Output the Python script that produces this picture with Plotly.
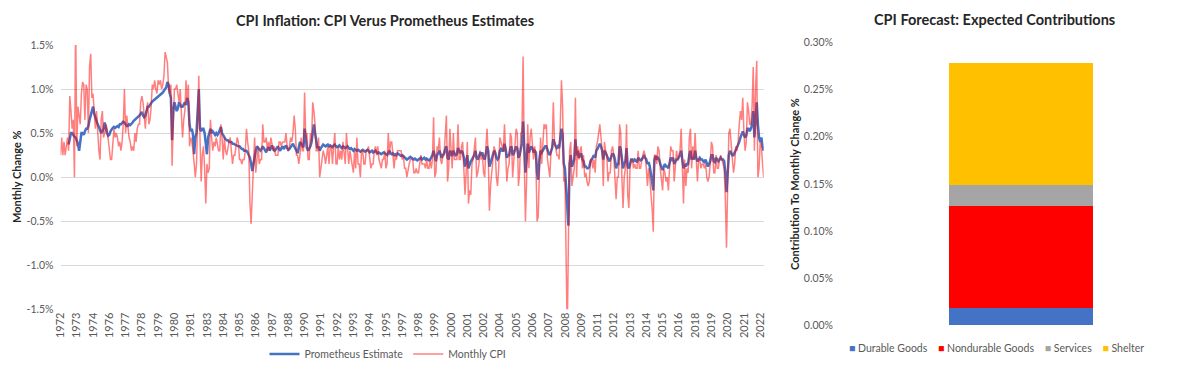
import pandas as pd
import plotly.graph_objects as go

# ---------------- data ----------------
months = pd.date_range("1972-07-01", "2022-12-01", freq="MS")
month_labels = [d.strftime("%Y-%m") for d in months]

# Monthly CPI change (%), Jul 1972 .. Dec 2022
cpi_monthly = [
    0.25, 0.45, 0.25, 0.4, 0.25, 0.35,                                    # 1972 H2
    0.45, 0.3, 0.92, 0.75, 0.55, 0.65, 0.0, 1.8, 0.35, 0.8, 0.7, 0.6,      # 1973
    0.95, 1.08, 1.05, 0.65, 1.05, 1.0, 0.5, 1.25, 1.4, 0.9, 0.95, 0.7,     # 1974
    0.55, 0.75, 0.45, 0.3, 0.2, 0.65, 0.75, 0.45, 0.5, 0.6, 0.55, 0.45,    # 1975
    0.35, 0.2, 0.2, 0.45, 0.55, 0.45, 0.5, 0.45, 0.35, 0.4, 0.3, 0.4,      # 1976
    0.6, 1.0, 0.5, 0.7, 0.55, 0.45, 0.4, 0.3, 0.35, 0.3, 0.5, 0.4,         # 1977
    0.55, 0.6, 0.6, 0.85, 0.92, 0.85, 0.7, 0.55, 0.75, 0.85, 0.6, 0.65,    # 1978
    0.8, 1.05, 1.0, 1.1, 1.0, 0.95, 1.1, 1.05, 1.1, 1.0, 1.05, 1.15,       # 1979
    1.42, 1.35, 1.3, 1.0, 0.95, 1.05, 0.13, 0.6, 1.0, 1.0, 1.05, 0.95,     # 1980
    0.85, 1.0, 0.6, 0.45, 0.65, 0.75, 1.1, 0.85, 1.05, 0.35, 0.45, 0.4,    # 1981
    0.3, 0.15, 0.0, 0.15, 0.85, 1.15, 0.45, -0.05, 0.25, 0.35, 0.1, -0.3,  # 1982
    0.15, 0.05, 0.1, 0.65, 0.45, 0.3, 0.4, 0.35, 0.45, 0.35, 0.3, 0.3,     # 1983
    0.6, 0.45, 0.2, 0.45, 0.3, 0.25, 0.35, 0.4, 0.45, 0.3, 0.15, 0.25,     # 1984
    0.25, 0.35, 0.45, 0.4, 0.2, 0.2, 0.15, 0.2, 0.2, 0.3, 0.55, 0.4,       # 1985
    0.3, -0.3, -0.53, -0.2, 0.2, 0.45, 0.05, 0.2, 0.35, 0.15, 0.2, 0.2,    # 1986
    0.6, 0.4, 0.4, 0.45, 0.3, 0.4, 0.3, 0.45, 0.35, 0.3, 0.35, 0.25,       # 1987
    0.25, 0.25, 0.4, 0.4, 0.35, 0.4, 0.4, 0.4, 0.5, 0.35, 0.3, 0.35,       # 1988
    0.45, 0.4, 0.5, 0.7, 0.55, 0.25, 0.25, 0.15, 0.25, 0.45, 0.3, 0.3,     # 1989
    0.96, 0.45, 0.5, 0.2, 0.2, 0.5, 0.4, 0.85, 0.75, 0.6, 0.3, 0.3,        # 1990
    0.45, 0.0, 0.1, 0.2, 0.3, 0.25, 0.15, 0.25, 0.35, 0.15, 0.35, 0.35,    # 1991
    0.15, 0.35, 0.5, 0.15, 0.15, 0.35, 0.2, 0.3, 0.2, 0.4, 0.25, 0.15,     # 1992
    0.5, 0.35, 0.15, 0.3, 0.2, 0.1, 0.05, 0.3, 0.1, 0.45, 0.15, 0.15,      # 1993
    0.0, 0.3, 0.3, 0.15, 0.15, 0.3, 0.3, 0.35, 0.2, 0.1, 0.15, 0.15,       # 1994
    0.3, 0.35, 0.25, 0.35, 0.2, 0.15, 0.1, 0.2, 0.2, 0.3, 0.1, 0.15,       # 1995
    0.5, 0.25, 0.4, 0.4, 0.25, 0.1, 0.25, 0.2, 0.3, 0.3, 0.3, 0.3,         # 1996
    0.2, 0.25, 0.1, 0.1, 0.0, 0.1, 0.15, 0.2, 0.2, 0.2, 0.05, 0.05,        # 1997
    0.1, 0.05, 0.05, 0.15, 0.25, 0.15, 0.15, 0.15, 0.1, 0.2, 0.1, 0.1,     # 1998
    0.2, 0.1, 0.2, 0.68, 0.0, 0.05, 0.35, 0.3, 0.45, 0.2, 0.15, 0.25,      # 1999
    0.25, 0.55, 0.7, -0.05, 0.1, 0.55, 0.25, 0.1, 0.5, 0.2, 0.2, 0.2,      # 2000
    0.6, 0.2, 0.2, 0.35, 0.4, 0.15, -0.2, 0.05, 0.4, -0.3, -0.15, -0.2,    # 2001
    0.15, 0.2, 0.3, 0.45, 0.0, 0.05, 0.15, 0.3, 0.2, 0.25, 0.05, 0.0,      # 2002
    0.35, 0.55, 0.25, -0.38, -0.1, 0.1, 0.2, 0.35, 0.3, 0.0, -0.1, 0.1,    # 2003
    0.45, 0.4, 0.35, 0.3, 0.6, 0.3, -0.05, 0.1, 0.15, 0.5, 0.45, 0.0,      # 2004
    0.2, 0.45, 0.55, 0.5, -0.1, 0.05, 0.5, 0.5, 1.37, 0.2, -0.5, -0.05,    # 2005
    0.6, 0.1, 0.45, 0.55, 0.4, 0.2, 0.35, 0.2, -0.5, -0.45, 0.05, 0.45,    # 2006
    0.15, 0.4, 0.6, 0.55, 0.6, 0.2, 0.1, 0.0, 0.3, 0.35, 0.85, 0.4,        # 2007
    0.35, 0.25, 0.25, 0.2, 0.6, 1.1, 0.8, -0.05, 0.0, -0.9, -1.8, -0.7,    # 2008
    0.3, 0.4, -0.1, 0.0, 0.1, 0.9, 0.0, 0.35, 0.2, 0.3, 0.35, 0.1,         # 2009
    0.25, 0.0, 0.05, -0.05, -0.1, -0.05, 0.2, 0.2, 0.1, 0.2, 0.05, 0.35,   # 2010
    0.4, 0.5, 0.6, 0.45, 0.3, -0.1, 0.4, 0.3, 0.25, -0.05, 0.05, 0.05,     # 2011
    0.3, 0.35, 0.25, 0.0, -0.25, 0.0, 0.0, 0.6, 0.5, 0.0, -0.35, 0.0,      # 2012
    0.1, 0.6, -0.2, -0.35, 0.1, 0.2, 0.2, 0.1, 0.15, 0.1, 0.1, 0.3,        # 2013
    0.1, 0.1, 0.2, 0.25, 0.3, 0.25, 0.1, -0.1, 0.1, 0.0, -0.2, -0.35,      # 2014
    -0.62, 0.25, 0.25, 0.15, 0.35, 0.3, 0.1, 0.0, -0.15, 0.1, 0.05, -0.05, # 2015
    0.0, -0.15, 0.15, 0.35, 0.3, 0.3, -0.05, 0.2, 0.3, 0.2, 0.25, 0.3,     # 2016
    0.55, 0.1, -0.3, 0.2, -0.1, 0.1, 0.05, 0.45, 0.55, 0.1, 0.35, 0.2,     # 2017
    0.5, 0.2, -0.05, 0.2, 0.2, 0.1, 0.15, 0.15, 0.1, 0.15, 0.0, -0.05,     # 2018
    0.0, 0.15, 0.4, 0.35, 0.05, 0.05, 0.25, 0.1, 0.1, 0.2, 0.25, 0.2,      # 2019
    0.15, 0.1, -0.25, -0.8, -0.1, 0.5, 0.55, 0.35, 0.15, 0.05, 0.15, 0.35, # 2020
    0.3, 0.4, 0.6, 0.75, 0.65, 0.9, 0.5, 0.3, 0.4, 0.85, 0.75, 0.6,        # 2021
    0.6, 0.8, 1.25, 0.3, 1.0, 1.32, 0.0, 0.1, 0.4, 0.35, 0.15, 0.0,        # 2022
]

# Prometheus estimate (%), Jul 1972 .. Dec 2022 (None = not available)
prometheus_estimate = [
    None, None, None, None, None, None,                                     # 1972 H2
    None, 0.37, 0.42, 0.5, 0.5, 0.47, 0.46, 0.45, 0.42, 0.38, 0.3, 0.4,     # 1973
    0.5, 0.5, 0.48, 0.52, 0.55, 0.55, 0.58, 0.65, 0.7, 0.78, 0.8, 0.72,     # 1974
    0.67, 0.62, 0.6, 0.57, 0.52, 0.5, 0.52, 0.55, 0.62, 0.55, 0.5, 0.47,    # 1975
    0.48, 0.52, 0.55, 0.56, 0.57, 0.56, 0.57, 0.58, 0.57, 0.6, 0.6, 0.62,   # 1976
    0.63, 0.62, 0.6, 0.58, 0.58, 0.6, 0.59, 0.6, 0.62, 0.64, 0.65, 0.66,    # 1977
    0.67, 0.68, 0.7, 0.72, 0.74, 0.7, 0.68, 0.7, 0.75, 0.8, 0.8, 0.82,      # 1978
    0.85, 0.86, 0.87, 0.88, 0.9, 0.9, 0.92, 0.92, 0.93, 0.95, 0.96, 0.98,   # 1979
    1.0, 1.02, 1.08, 1.05, 0.95, 0.9, 0.42, 0.75, 0.85, 0.8, 0.75, 0.78,    # 1980
    0.85, 0.82, 0.8, 0.8, 0.82, 0.85, 0.82, 0.9, 0.85, 0.6, 0.52, 0.55,     # 1981
    0.48, 0.26, 0.45, 0.5, 0.75, 1.0, 0.55, 0.52, 0.55, 0.55, 0.5, 0.4,     # 1982
    0.26, 0.45, 0.52, 0.55, 0.5, 0.52, 0.5, 0.48, 0.5, 0.48, 0.5, 0.55,     # 1983
    0.57, 0.5, 0.47, 0.45, 0.43, 0.42, 0.42, 0.4, 0.4, 0.4, 0.38, 0.38,     # 1984
    0.37, 0.36, 0.36, 0.35, 0.35, 0.33, 0.32, 0.32, 0.3, 0.3, 0.3, 0.28,    # 1985
    0.25, 0.22, 0.15, 0.07, 0.15, 0.25, 0.3, 0.35, 0.33, 0.32, 0.3, 0.32,   # 1986
    0.35, 0.33, 0.3, 0.28, 0.32, 0.34, 0.3, 0.33, 0.36, 0.32, 0.3, 0.31,    # 1987
    0.33, 0.35, 0.32, 0.3, 0.33, 0.35, 0.32, 0.34, 0.36, 0.33, 0.31, 0.32,  # 1988
    0.34, 0.36, 0.38, 0.35, 0.33, 0.3, 0.27, 0.32, 0.4, 0.38, 0.35, 0.34,   # 1989
    0.55, 0.4, 0.33, 0.3, 0.32, 0.35, 0.4, 0.5, 0.6, 0.5, 0.38, 0.33,       # 1990
    0.35, 0.3, 0.33, 0.36, 0.37, 0.36, 0.35, 0.36, 0.37, 0.35, 0.36, 0.35,  # 1991
    0.34, 0.36, 0.37, 0.35, 0.34, 0.35, 0.36, 0.34, 0.33, 0.35, 0.34, 0.33, # 1992
    0.34, 0.35, 0.33, 0.32, 0.33, 0.31, 0.3, 0.32, 0.31, 0.3, 0.31, 0.3,    # 1993
    0.29, 0.3, 0.31, 0.3, 0.29, 0.3, 0.31, 0.3, 0.28, 0.29, 0.3, 0.28,      # 1994
    0.29, 0.3, 0.28, 0.27, 0.28, 0.27, 0.26, 0.27, 0.28, 0.27, 0.26, 0.25,  # 1995
    0.28, 0.3, 0.27, 0.26, 0.27, 0.25, 0.26, 0.25, 0.27, 0.26, 0.25, 0.24,  # 1996
    0.25, 0.24, 0.23, 0.22, 0.2, 0.21, 0.22, 0.23, 0.22, 0.21, 0.2, 0.21,   # 1997
    0.2, 0.19, 0.2, 0.21, 0.22, 0.2, 0.21, 0.22, 0.2, 0.21, 0.2, 0.19,      # 1998
    0.2, 0.22, 0.25, 0.3, 0.22, 0.18, 0.25, 0.27, 0.3, 0.26, 0.22, 0.25,    # 1999
    0.27, 0.32, 0.35, 0.22, 0.2, 0.3, 0.28, 0.24, 0.3, 0.27, 0.25, 0.26,    # 2000
    0.33, 0.3, 0.27, 0.3, 0.28, 0.22, 0.12, 0.18, 0.25, 0.1, 0.15, 0.18,    # 2001
    0.2, 0.22, 0.25, 0.3, 0.22, 0.2, 0.23, 0.27, 0.26, 0.28, 0.22, 0.2,     # 2002
    0.27, 0.35, 0.3, 0.12, 0.16, 0.2, 0.24, 0.3, 0.28, 0.22, 0.2, 0.22,     # 2003
    0.3, 0.32, 0.3, 0.3, 0.38, 0.32, 0.22, 0.25, 0.25, 0.33, 0.35, 0.25,    # 2004
    0.27, 0.32, 0.35, 0.33, 0.22, 0.25, 0.33, 0.38, 0.63, 0.35, 0.05, 0.2,  # 2005
    0.38, 0.28, 0.32, 0.35, 0.33, 0.28, 0.3, 0.28, 0.05, -0.03, 0.2, 0.3,   # 2006
    0.28, 0.3, 0.33, 0.35, 0.35, 0.3, 0.27, 0.25, 0.3, 0.33, 0.43, 0.38,    # 2007
    0.35, 0.33, 0.35, 0.33, 0.42, 0.55, 0.48, 0.15, 0.1, -0.15, -0.4, -0.55,# 2008
    0.15, 0.25, 0.12, 0.15, 0.2, 0.43, 0.25, 0.3, 0.22, 0.25, 0.27, 0.2,    # 2009
    0.18, 0.12, 0.12, 0.1, 0.1, 0.12, 0.18, 0.2, 0.22, 0.25, 0.22, 0.3,     # 2010
    0.32, 0.35, 0.38, 0.35, 0.3, 0.2, 0.3, 0.28, 0.25, 0.2, 0.18, 0.2,      # 2011
    0.25, 0.27, 0.25, 0.2, 0.1, 0.15, 0.15, 0.35, 0.32, 0.18, 0.1, 0.15,    # 2012
    0.18, 0.33, 0.12, 0.1, 0.15, 0.2, 0.2, 0.18, 0.2, 0.18, 0.17, 0.22,     # 2013
    0.2, 0.19, 0.2, 0.22, 0.24, 0.22, 0.2, 0.15, 0.17, 0.12, 0.05, -0.05,   # 2014
    -0.15, 0.2, 0.24, 0.2, 0.22, 0.2, 0.15, 0.12, 0.08, 0.12, 0.15, 0.12,   # 2015
    0.12, 0.1, 0.15, 0.22, 0.2, 0.22, 0.15, 0.18, 0.2, 0.2, 0.22, 0.25,     # 2016
    0.3, 0.18, 0.1, 0.15, 0.12, 0.15, 0.15, 0.25, 0.3, 0.2, 0.23, 0.2,      # 2017
    0.3, 0.22, 0.18, 0.2, 0.22, 0.2, 0.2, 0.18, 0.17, 0.2, 0.15, 0.12,      # 2018
    0.15, 0.18, 0.25, 0.25, 0.18, 0.17, 0.22, 0.2, 0.18, 0.2, 0.22, 0.2,    # 2019
    0.2, 0.18, 0.05, -0.17, 0.1, 0.25, 0.3, 0.28, 0.25, 0.25, 0.28, 0.3,    # 2020
    0.32, 0.35, 0.4, 0.45, 0.5, 0.52, 0.48, 0.45, 0.47, 0.55, 0.55, 0.52,   # 2021
    0.55, 0.6, 0.75, 0.45, 0.65, 0.85, 0.6, 0.45, 0.4, 0.45, 0.35, 0.3,     # 2022
]

# Tick labels: every 14th month, shown as the year
tick_step = 14
tick_months = month_labels[::tick_step]
tick_years = [m[:4] for m in tick_months]

# Forecast contributions (%)
components = ["Durable Goods", "Nondurable Goods", "Services", "Shelter"]
contributions = [0.018, 0.108, 0.023, 0.129]
component_colors = ["#4472C4", "#FF0000", "#A5A5A5", "#FFC000"]
forecast_category = ["Forecast"]

assert len(cpi_monthly) == len(month_labels) == len(prometheus_estimate)

# ---------------- figure ----------------
FONT = "Lato, 'Open Sans', sans-serif"
TICK = "#595959"
W, H = 1200, 370
OFF = 8  # page body margin offset of the plot div


def px_x(p):
    return (p - OFF) / W


def px_y(p):
    return 1 - (p - OFF) / H


fig = go.Figure()

fig.add_trace(go.Scatter(
    x=month_labels, y=prometheus_estimate, mode="lines",
    name="Prometheus Estimate", line=dict(color="#4472C4", width=2.5),
    xaxis="x", yaxis="y", connectgaps=False,
))
fig.add_trace(go.Scatter(
    x=month_labels, y=cpi_monthly, mode="lines",
    name="Monthly CPI", line=dict(color="rgba(255,0,0,0.5)", width=1.5),
    xaxis="x", yaxis="y",
))

for name, val, col in zip(components, contributions, component_colors):
    fig.add_trace(go.Bar(
        x=forecast_category, y=[val], name=name,
        marker=dict(color=col, line=dict(width=0)),
        width=0.40, xaxis="x2", yaxis="y2", showlegend=False,
    ))

# compact legend for the bar chart (Excel style small squares)
bar_legend_text = "    ".join(
    f'<span style="color:{c}">■</span> {n}' for n, c in zip(components, component_colors)
)

left_dom_y = [px_y(309.3), px_y(45)]
zero_pos = left_dom_y[0] + (0 - (-1.5)) / 3.0 * (left_dom_y[1] - left_dom_y[0])

fig.update_layout(
    width=W, height=H,
    margin=dict(l=0, r=0, t=0, b=0, autoexpand=False),
    paper_bgcolor="white", plot_bgcolor="white",
    font=dict(family=FONT, color=TICK, size=10.5),
    barmode="stack",
    showlegend=True,
    xaxis=dict(
        domain=[px_x(60.5), px_x(763.7)], anchor="y", type="category",
        categoryorder="array", categoryarray=month_labels,
        range=[0, len(month_labels) - 1], automargin=False,
        tickmode="array", tickvals=tick_months, ticktext=tick_years,
        tickangle=-90, showgrid=False, zeroline=False, showline=False,
        ticks="", tickfont=dict(size=11, color=TICK),
    ),
    xaxis3=dict(
        overlaying="x", anchor="free", position=zero_pos, type="category",
        categoryorder="array", categoryarray=month_labels,
        range=[0, len(month_labels) - 1], automargin=False,
        tickmode="array", tickvals=tick_months, showticklabels=False,
        ticks="outside", ticklen=4, tickcolor="#BFBFBF",
        showline=True, linecolor="#BFBFBF", linewidth=1,
        showgrid=False, zeroline=False,
    ),
    yaxis=dict(
        domain=left_dom_y, anchor="x", range=[-1.5, 1.5], automargin=False,
        tickmode="array", tickvals=[-1.5, -1.0, -0.5, 0.0, 0.5, 1.0, 1.5],
        ticktext=["-1.5%", "-1.0%", "-0.5%", "0.0%", "0.5%", "1.0%", "1.5%"],
        showgrid=True, gridcolor="#D9D9D9", gridwidth=1,
        zeroline=False, showline=False, ticks="",
        ticklabelstandoff=6, tickfont=dict(size=10.5, color=TICK),
    ),
    xaxis2=dict(
        domain=[px_x(842), px_x(1200)], anchor="y2", type="category",
        range=[-0.5, 0.5], showticklabels=False, showgrid=False, automargin=False,
        zeroline=False, showline=False, ticks="",
    ),
    yaxis2=dict(
        domain=[px_y(325), px_y(42.7)], anchor="x2", range=[0, 0.30], automargin=False,
        tickmode="array", tickvals=[0, 0.05, 0.10, 0.15, 0.20, 0.25, 0.30],
        ticktext=["0.00%", "0.05%", "0.10%", "0.15%", "0.20%", "0.25%", "0.30%"],
        showgrid=False, zeroline=False, showline=False, ticks="",
        ticklabelstandoff=8, tickfont=dict(size=10.5, color=TICK),
    ),
    legend=dict(
        orientation="h", x=px_x(388), xanchor="center", y=px_y(354), yanchor="middle",
        font=dict(size=10.5, color=TICK), bgcolor="rgba(0,0,0,0)",
        traceorder="normal", itemwidth=30,
    ),
    annotations=[
        dict(text="<b>CPI Inflation: CPI Verus Prometheus Estimates</b>",
             x=px_x(385), y=px_y(21), xref="paper", yref="paper",
             xanchor="center", yanchor="middle", showarrow=False,
             font=dict(size=14.5, color="#262626", family=FONT)),
        dict(text="<b>CPI Forecast: Expected Contributions</b>",
             x=px_x(994), y=px_y(19), xref="paper", yref="paper",
             xanchor="center", yanchor="middle", showarrow=False,
             font=dict(size=14.5, color="#262626", family=FONT)),
        dict(text="<b>Monthly Change %</b>", textangle=-90,
             x=px_x(16), y=px_y(177), xref="paper", yref="paper",
             xanchor="center", yanchor="middle", showarrow=False,
             font=dict(size=11, color="#262626", family=FONT)),
        dict(text="<b>Contribution To Monthly Change %</b>", textangle=-90,
             x=px_x(794), y=px_y(184), xref="paper", yref="paper",
             xanchor="center", yanchor="middle", showarrow=False,
             font=dict(size=11, color="#262626", family=FONT)),
        dict(text=bar_legend_text,
             x=px_x(996), y=px_y(347.5), xref="paper", yref="paper",
             xanchor="center", yanchor="middle", showarrow=False,
             font=dict(size=10.5, color=TICK, family=FONT)),
    ],
)

fig.write_html("out.html")
